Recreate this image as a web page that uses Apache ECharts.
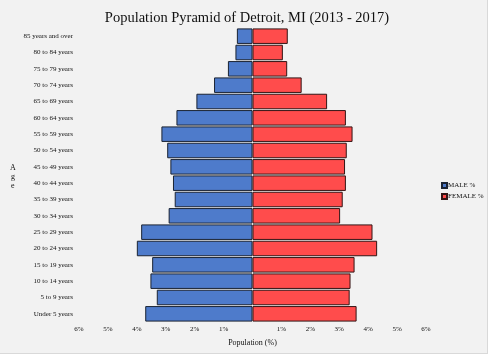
<!DOCTYPE html>
<html>
<head>
<meta charset="utf-8">
<script src="https://cdn.jsdelivr.net/npm/echarts@6/dist/echarts.min.js"></script>
<style>
  html, body { margin: 0; padding: 0; background: #f2f2f2; }
  #chart { width: 488px; height: 354px; box-sizing: border-box; border-right: 1px solid #d9d9d9; border-bottom: 1px solid #d9d9d9; }
</style>
</head>
<body>
<div id="chart"></div>
<script>
// age groups, top to bottom as in picture -> reversed for category axis
var ageGroups = ['85 years and over', '80 to 84 years', '75 to 79 years', '70 to 74 years',
  '65 to 69 years', '60 to 64 years', '55 to 59 years', '50 to 54 years', '45 to 49 years',
  '40 to 44 years', '35 to 39 years', '30 to 34 years', '25 to 29 years', '20 to 24 years',
  '15 to 19 years', '10 to 14 years', '5 to 9 years', 'Under 5 years'];
var malePct = [0.54, 0.59, 0.85, 1.33, 1.94, 2.63, 3.15, 2.95, 2.84,
  2.75, 2.69, 2.90, 3.85, 4.00, 3.47, 3.53, 3.31, 3.71];
var femalePct = [1.22, 1.05, 1.20, 1.70, 2.58, 3.23, 3.46, 3.26, 3.20,
  3.23, 3.12, 3.03, 4.15, 4.31, 3.53, 3.39, 3.36, 3.60];
var xTicks = [-6, -5, -4, -3, -2, -1, 0, 1, 2, 3, 4, 5, 6];

var serif = "'Liberation Serif', 'DejaVu Serif', serif";
var chart = echarts.init(document.getElementById('chart'));

var cats = ageGroups.slice().reverse();
var maleData = malePct.slice().reverse().map(function(v) { return -v; });
var femaleData = femalePct.slice().reverse();

var option = {
  backgroundColor: '#f2f2f2',
  animation: false,
  title: {
    text: 'Population Pyramid of Detroit, MI (2013 - 2017)',
    left: 242, top: 6, textAlign: 'center',
    textStyle: { fontFamily: serif, fontSize: 14.5, fontWeight: 'normal', color: '#111' }
  },
  legend: {
    orient: 'vertical', left: 436, top: 177,
    itemWidth: 5, itemHeight: 5, itemGap: 4,
    icon: 'rect',
    textStyle: { fontFamily: serif, fontSize: 7, color: '#111', padding: [0, 0, 0, -4] },
    data: ['MALE %', 'FEMALE %']
  },
  grid: { left: 79, right: 61, top: 28, bottom: 31, containLabel: false },
  xAxis: {
    type: 'value', min: xTicks[0], max: xTicks[xTicks.length - 1], interval: 1,
    name: 'Population (%)', nameLocation: 'middle', nameGap: 17,
    nameTextStyle: { fontFamily: serif, fontSize: 8, color: '#111' },
    axisLine: { show: false }, axisTick: { show: false }, splitLine: { show: false },
    axisLabel: {
      fontFamily: serif, fontSize: 7, color: '#111', margin: 4,
      formatter: function(v) { return v === 0 ? '' : Math.abs(v) + '%'; }
    }
  },
  yAxis: {
    type: 'category', data: cats,
    axisLine: { show: false }, axisTick: { show: false },
    axisLabel: { fontFamily: serif, fontSize: 7, color: '#111', margin: 6 }
  },
  graphic: [{
    type: 'text', left: 10, top: 163,
    style: { text: 'A\ng\ne', font: '8px ' + serif, fill: '#111', lineHeight: 9, textAlign: 'center' }
  }],
  series: [{
    name: 'MALE %', type: 'bar', stack: 'pop', data: maleData,
    barCategoryGap: '5%',
    itemStyle: { color: '#4e7bcb', borderColor: '#1a2333', borderWidth: 1 }
  }, {
    name: 'FEMALE %', type: 'bar', stack: 'pop', data: femaleData,
    barCategoryGap: '5%',
    itemStyle: { color: '#ff4c4c', borderColor: '#331515', borderWidth: 1 }
  }]
};
chart.setOption(option);
window.onresize = chart.resize;
</script>
</body>
</html>
